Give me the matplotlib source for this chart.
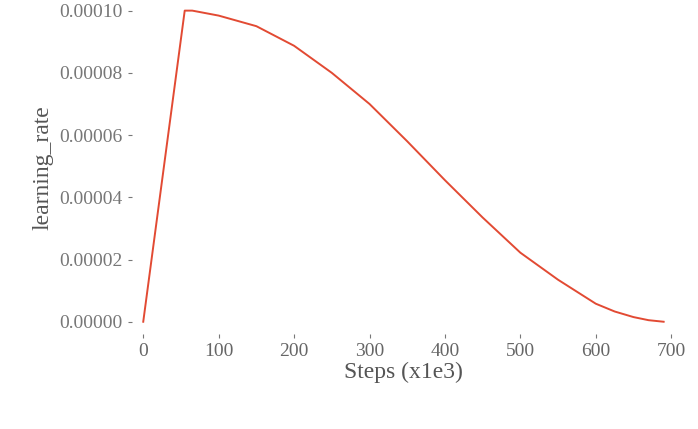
import matplotlib
matplotlib.use("Agg")
import matplotlib.pyplot as plt

# values (learning rate in units of 1e-4)
steps = [0, 55, 65, 100, 150, 200, 250, 300, 350, 400, 450, 500, 550, 600, 625, 650, 670, 690]
lr_e4 = [0.0, 1.0, 1.0, 0.984, 0.95, 0.887, 0.80, 0.70, 0.58, 0.455, 0.335, 0.222, 0.135, 0.058, 0.033, 0.015, 0.005, 0.0]
learning_rate = [v * 1e-4 for v in lr_e4]

plt.rcParams['font.family'] = ['Liberation Serif', 'DejaVu Serif']

fig, ax = plt.subplots(figsize=(6.98, 4.29), dpi=100)
ax.plot(steps, learning_rate, color='#e24a33', lw=1.4)

for s in ax.spines.values():
    s.set_visible(False)
ax.set_xlim(-15, 705)
ax.set_ylim(-0.4e-5, 1.03e-4)
ax.set_xticks(range(0, 701, 100))
ax.set_yticks([0, 2e-5, 4e-5, 6e-5, 8e-5, 1e-4])
ax.set_yticklabels([f'{v:.5f}' for v in ax.get_yticks()])
ax.tick_params(colors='#777777', labelsize=14, length=3)
ax.tick_params(axis='x', labelcolor='#666666')
ax.set_xlabel('Steps (x1e3)', fontsize=17, color='#555555', labelpad=1)
ax.set_ylabel('learning_rate', fontsize=17, color='#555555')

fig.subplots_adjust(left=0.189, right=0.967, top=0.997, bottom=0.221)
fig.savefig('out.png')
